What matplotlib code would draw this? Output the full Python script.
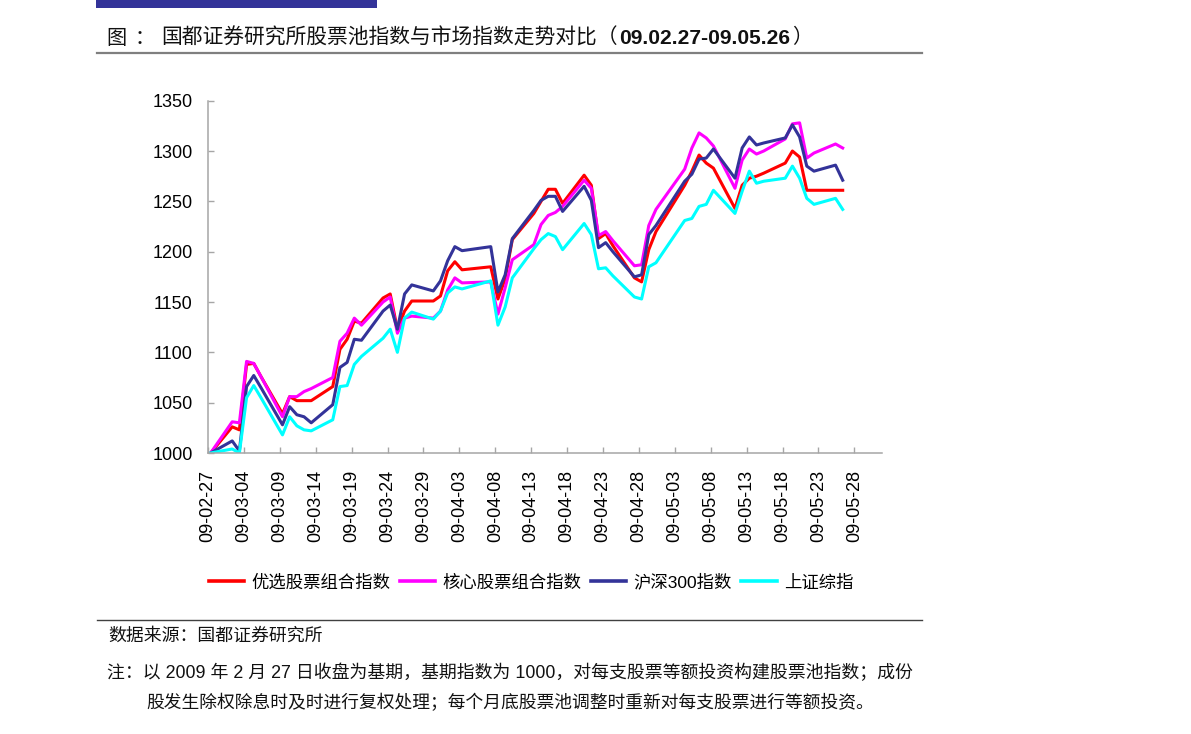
import matplotlib
matplotlib.use('Agg')
import matplotlib.pyplot as plt
import matplotlib.dates as mdates
from matplotlib.lines import Line2D
from matplotlib.patches import Rectangle
import numpy as np

# ---------------- data ----------------
dates = ['2009-02-27',
         '2009-03-02', '2009-03-03', '2009-03-04', '2009-03-05', '2009-03-06',
         '2009-03-09', '2009-03-10', '2009-03-11', '2009-03-12', '2009-03-13',
         '2009-03-16', '2009-03-17', '2009-03-18', '2009-03-19', '2009-03-20',
         '2009-03-23', '2009-03-24', '2009-03-25', '2009-03-26', '2009-03-27',
         '2009-03-30', '2009-03-31', '2009-04-01', '2009-04-02', '2009-04-03',
         '2009-04-07', '2009-04-08', '2009-04-09', '2009-04-10',
         '2009-04-13', '2009-04-14', '2009-04-15', '2009-04-16', '2009-04-17',
         '2009-04-20', '2009-04-21', '2009-04-22', '2009-04-23', '2009-04-24',
         '2009-04-27', '2009-04-28', '2009-04-29', '2009-04-30',
         '2009-05-04', '2009-05-05', '2009-05-06', '2009-05-07', '2009-05-08',
         '2009-05-11', '2009-05-12', '2009-05-13', '2009-05-14', '2009-05-15',
         '2009-05-18', '2009-05-19', '2009-05-20', '2009-05-21', '2009-05-22',
         '2009-05-25', '2009-05-26']

youxuan = [1000,
           1026, 1023, 1088, 1089, 1076,
           1039, 1056, 1052, 1052, 1052,
           1066, 1103, 1113, 1131, 1129,
           1154, 1158, 1123, 1141, 1151,
           1151, 1156, 1181, 1190, 1182,
           1185, 1153, 1173, 1212,
           1238, 1250, 1262, 1262, 1248,
           1276, 1266, 1213, 1218, 1206,
           1174, 1170, 1202, 1220,
           1266, 1280, 1296, 1288, 1283,
           1243, 1266, 1273, 1275, 1278,
           1288, 1300, 1294, 1261, 1261,
           1261, 1261]

hexin = [1000,
         1031, 1030, 1091, 1089, 1076,
         1036, 1056, 1056, 1061, 1064,
         1075, 1111, 1119, 1134, 1127,
         1150, 1155, 1119, 1134, 1136,
         1134, 1141, 1162, 1174, 1169,
         1170, 1138, 1164, 1192,
         1207, 1227, 1236, 1239, 1245,
         1271, 1263, 1216, 1220, 1211,
         1186, 1187, 1226, 1242,
         1282, 1303, 1318, 1313, 1305,
         1263, 1291, 1302, 1297, 1300,
         1312, 1327, 1328, 1293, 1298,
         1307, 1303]

hs300 = [1000,
         1012, 1002, 1066, 1077, 1065,
         1028, 1046, 1038, 1036, 1030,
         1048, 1085, 1090, 1113, 1112,
         1141, 1147, 1123, 1158, 1167,
         1161, 1171, 1191, 1205, 1201,
         1205, 1160, 1177, 1213,
         1241, 1251, 1255, 1255, 1240,
         1265, 1251, 1204, 1209, 1200,
         1175, 1177, 1217, 1226,
         1270, 1277, 1292, 1293, 1302,
         1273, 1303, 1314, 1306, 1308,
         1313, 1326, 1314, 1285, 1280,
         1286, 1271]

szzz = [1000,
        1004, 1000, 1055, 1067, 1055,
        1018, 1036, 1027, 1023, 1022,
        1033, 1066, 1067, 1088, 1096,
        1114, 1123, 1100, 1134, 1140,
        1133, 1141, 1159, 1165, 1163,
        1171, 1127, 1145, 1174,
        1203, 1212, 1218, 1215, 1202,
        1228, 1217, 1183, 1184, 1176,
        1155, 1153, 1185, 1189,
        1231, 1233, 1245, 1247, 1261,
        1238, 1260, 1280, 1268, 1270,
        1273, 1285, 1273, 1253, 1247,
        1253, 1242]

series_names = ['优选股票组合指数', '核心股票组合指数', '沪深300指数', '上证综指']
series_colors = ['#FF0000', '#FF00FF', '#333399', '#00FFFF']

tick_labels = ['09-02-27', '09-03-04', '09-03-09', '09-03-14', '09-03-19',
               '09-03-24', '09-03-29', '09-04-03', '09-04-08', '09-04-13',
               '09-04-18', '09-04-23', '09-04-28', '09-05-03', '09-05-08',
               '09-05-13', '09-05-18', '09-05-23', '09-05-28']
y_ticks = [1000, 1050, 1100, 1150, 1200, 1250, 1300, 1350]

title_head = '图'
title_colon = '：'
title_cn = '国都证券研究所股票池指数与市场指数走势对比（'
title_num = '09.02.27-09.05.26'
title_end = '）'
source_text = '数据来源：国都证券研究所'
note_line1 = '注：以 2009 年 2 月 27 日收盘为基期，基期指数为 1000，对每支股票等额投资构建股票池指数；成份'
note_line2 = '股发生除权除息时及时进行复权处理；每个月底股票池调整时重新对每支股票进行等额投资。'

# ---------------- figure ----------------
W, H = 1191, 734
fig = plt.figure(figsize=(W / 100, H / 100), dpi=100)
fig.patch.set_facecolor('white')

def fx(px):
    return px / W

def fy(py):
    return 1 - py / H

ax = fig.add_axes([fx(208), fy(453), (881.7 - 208) / W, (453 - 100.7) / H])

xd = mdates.datestr2num(dates)
series = [youxuan, hexin, hs300, szzz]
for vals, name, col in zip(series, series_names, series_colors):
    ax.plot(xd, vals, color=col, lw=2.2, label=name, solid_joinstyle='round')

# date ticks: Excel places labels a little left of the data day
tick_pos = mdates.datestr2num(['20' + s for s in tick_labels]) - 0.37
ax.set_xticks(tick_pos)
ax.set_xticklabels(tick_labels, rotation=90, fontfamily='Liberation Sans', fontsize=13)
ax.set_xlim(tick_pos[0], tick_pos[0] + 93.8)

ax.set_yticks(y_ticks)
ax.set_yticklabels([str(v) for v in y_ticks], fontfamily='Liberation Sans', fontsize=13)
ax.set_ylim(1000, 1350)

for s in ['top', 'right']:
    ax.spines[s].set_visible(False)
for s in ['left', 'bottom']:
    ax.spines[s].set_color('#a6a6a6')
    ax.spines[s].set_linewidth(1.1)
ax.tick_params(axis='both', direction='in', length=4.5, width=1.0, color='#a6a6a6')
ax.tick_params(axis='x', pad=12)
ax.tick_params(axis='y', pad=11)
ax.patch.set_alpha(0)

# legend
handles = [Line2D([], [], color=c, lw=2.6) for c in series_colors]
fig.legend(handles, series_names, loc='center', bbox_to_anchor=(fx(531), fy(582)),
           ncol=4, frameon=False, handlelength=2.05, handletextpad=0.4,
           columnspacing=0.55,
           prop={'family': ['Liberation Sans', 'Noto Sans CJK SC'], 'size': 12.5})

# header band (cut off at top of page)
fig.add_artist(Rectangle((fx(96), fy(8)), (377 - 96) / W, 8 / H,
                         transform=fig.transFigure, color='#333399', lw=0))

# rules
fig.add_artist(Line2D([fx(97), fx(922)], [fy(53), fy(53)], transform=fig.transFigure,
                      color='#7f7f7f', lw=1.6))
fig.add_artist(Line2D([fx(97), fx(922)], [fy(620), fy(620)], transform=fig.transFigure,
                      color='#404040', lw=1.0))

renderer = fig.canvas.get_renderer()

def fit(x0, x1, y_px, s, size0, **kw):
    t = fig.text(fx(x0), fy(y_px), s, ha='left', va='center', fontsize=size0, **kw)
    bb = t.get_window_extent(renderer)
    t.set_fontsize(size0 * (x1 - x0) / bb.width)
    return t

cjk = ['Liberation Sans', 'Noto Sans CJK SC']
tk = dict(fontfamily='Noto Sans CJK SC', fontsize=14.5, color='#111111')
fig.text(fx(106), fy(38), title_head, ha='left', va='center', **tk)
fig.text(fx(134), fy(38), title_colon, ha='left', va='center', **tk)
fit(161, 618, 38, title_cn, 14.5, fontfamily='Noto Sans CJK SC', color='#111111')
tn = fit(619, 790, 38, title_num, 14.5, fontfamily='Liberation Sans', fontweight='bold', color='#111111')
xr = tn.get_window_extent(renderer).x1 + 2
fig.text(fx(xr), fy(38), title_end, ha='left', va='center', **tk)

fit(108, 322, 636, source_text, 12, fontfamily=cjk, color='#111111')
fit(107, 912, 673, note_line1, 12, fontfamily=cjk, color='#111111')
fit(146, 872, 703, note_line2, 12, fontfamily=cjk, color='#111111')

fig.savefig('out.png', dpi=100, facecolor='white')
